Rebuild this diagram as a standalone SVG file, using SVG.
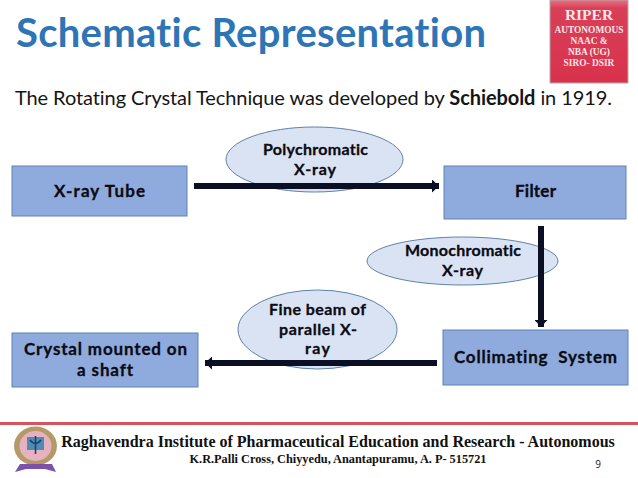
<svg xmlns="http://www.w3.org/2000/svg" width="638" height="478" viewBox="0 0 638 478">
<defs>
<linearGradient id="badge" x1="0" y1="0" x2="0" y2="1"><stop offset="0" stop-color="#e8707f"/><stop offset="0.1" stop-color="#d93f58"/><stop offset="1" stop-color="#d8324c"/></linearGradient>
<marker id="ah" markerUnits="userSpaceOnUse" markerWidth="8" markerHeight="13" refX="7" refY="6.5" orient="auto"><path d="M0 0L7 6.5L0 13z" fill="#0a0f24"/></marker>
</defs>
<style>
text{font-variant-ligatures:none}
.box{fill:#8faadc;stroke:#5f82b8;stroke-width:1}
.ell{fill:#dae3f3;stroke:#5f82a8;stroke-width:1}
.lbl{font-family:"Lato","Noto Sans",sans-serif;font-weight:700;font-size:17px;fill:#0b0b14;stroke:#0b0b14;stroke-width:.3;text-anchor:middle}
.sm{font-size:16px}
.ser{font-family:"Liberation Serif",serif;font-weight:700;text-anchor:middle}
.bd{fill:#f8e8e8}
.conn{stroke:#0a0f24;stroke-width:6;fill:none;marker-end:url(#ah)}
</style>
<rect width="638" height="478" fill="#fff"/>
<text x="16" y="47" font-family="Lato,'Noto Sans',sans-serif" font-weight="700" font-size="40" fill="#2e75b6" textLength="470">Schematic Representation</text>
<text x="15" y="105" font-family="Lato,'Noto Sans',sans-serif" font-size="20" fill="#151515" textLength="597">The Rotating Crystal Technique was developed by <tspan font-weight="700">Schiebold</tspan> in 1919.</text>
<g id="riper">
<rect x="550" y="0" width="78" height="83" fill="url(#badge)" stroke="#b5a8a8" stroke-width="1"/>
<text class="ser bd" x="589" y="20" font-size="15.5">RIPER</text>
<text class="ser bd" x="589" y="33" font-size="9.4">AUTONOMOUS</text>
<text class="ser bd" x="589" y="44" font-size="9.4">NAAC &amp;</text>
<text class="ser bd" x="589" y="55" font-size="9.4">NBA (UG)</text>
<text class="ser bd" x="589" y="66" font-size="9.4">SIRO- DSIR</text>
</g>
<g id="node-tube"><rect class="box" x="12" y="166" width="175" height="50"/><text class="lbl" x="99.5" y="197" textLength="91">X-ray Tube</text></g>
<g id="node-filter"><rect class="box" x="444" y="166" width="182" height="53"/><text class="lbl" x="535.5" y="197" textLength="41">Filter</text></g>
<g id="node-collimating"><rect class="box" x="443" y="330" width="185" height="55"/><text class="lbl" x="535.5" y="363" textLength="163" xml:space="preserve">Collimating  System</text></g>
<g id="node-crystal"><rect class="box" x="12" y="333" width="186" height="54"/><text class="lbl" x="105.5" y="355" textLength="163">Crystal mounted on</text><text class="lbl" x="105" y="376" textLength="56">a shaft</text></g>
<g id="node-poly"><ellipse class="ell" cx="314.500" cy="159.500" rx="88.500" ry="32.500"/><text class="lbl sm" x="315.500" y="155" textLength="105">Polychromatic</text><text class="lbl sm" x="315" y="175" textLength="42">X-ray</text></g>
<g id="node-mono"><ellipse class="ell" cx="462.500" cy="261" rx="95.500" ry="24"/><text class="lbl sm" x="463" y="256" textLength="116">Monochromatic</text><text class="lbl sm" x="462.500" y="276" textLength="41">X-ray</text></g>
<g id="node-fine"><ellipse class="ell" cx="317.500" cy="329.500" rx="79.500" ry="39.500"/><text class="lbl sm" x="317.500" y="315" textLength="97">Fine beam of</text><text class="lbl sm" x="318" y="335" textLength="78">parallel X-</text><text class="lbl sm" x="317.500" y="354" textLength="25">ray</text></g>
<g id="connectors">
<line class="conn" x1="194" y1="186" x2="439" y2="186"/>
<line class="conn" x1="541" y1="226" x2="541" y2="327"/>
<line class="conn" x1="437" y1="363" x2="205" y2="363"/>
</g>
<line x1="0" y1="423.500" x2="638" y2="423.500" stroke="#d9535c" stroke-width="3"/>
<g id="logo">
<ellipse cx="35.500" cy="446" rx="21.500" ry="19.500" fill="#b59a68"/>
<ellipse cx="35.500" cy="446" rx="16" ry="15" fill="#e6b2c0"/>
<rect x="27" y="437" width="17" height="13" fill="#4f8cb0"/>
<path d="M35.500 436v18M30 440q5.500 7 11 0" stroke="#1e3f78" stroke-width="1.600" fill="none"/>
<path d="M15 472L20 464H52L56 472L45 469H26z" fill="#7a52a8"/>
</g>
<text class="ser" x="338" y="447" font-size="16" fill="#111">Raghavendra Institute of Pharmaceutical Education and Research - Autonomous</text>
<text class="ser" x="338" y="463" font-size="12.300" fill="#111">K.R.Palli Cross, Chiyyedu, Anantapuramu, A. P- 515721</text>
<text x="598" y="468" font-family="'Open Sans',sans-serif" font-size="10" fill="#222" text-anchor="middle">9</text>
</svg>
